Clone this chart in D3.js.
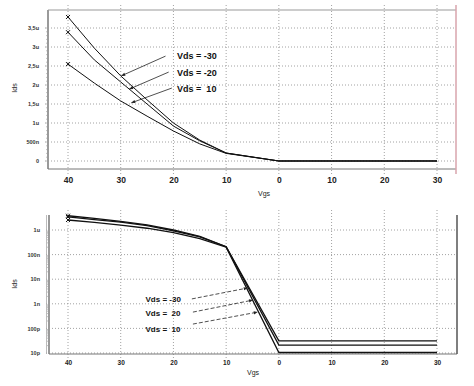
<!DOCTYPE html>
<html>
<head>
<meta charset="utf-8">
<script src="https://cdn.jsdelivr.net/npm/d3@7"></script>
<style>
  body { margin: 0; background: #fff; }
  text { font-family: "Liberation Sans", Arial, sans-serif; }
</style>
</head>
<body>
<div id="canvas"></div>
<script>
"use strict"

// Vgs sample points (V) and drain current (A) for the three Vds curves
let vgs = [-40, -35, -30, -25, -20, -15, -10, 0, 10, 20, 30];
let idsVds30 = [3.79e-6, 2.97e-6, 2.24e-6, 1.61e-6, 1.00e-6, 0.55e-6, 0.21e-6, 31e-12, 31e-12, 31e-12, 31e-12];
let idsVds20 = [3.39e-6, 2.66e-6, 2.08e-6, 1.50e-6, 0.92e-6, 0.53e-6, 0.21e-6, 21e-12, 21e-12, 21e-12, 21e-12];
let idsVds10 = [2.55e-6, 2.05e-6, 1.58e-6, 1.18e-6, 0.79e-6, 0.45e-6, 0.20e-6, 10.5e-12, 10.5e-12, 10.5e-12, 10.5e-12];

// axis ticks
let xTicks = [-40, -30, -20, -10, 0, 10, 20, 30];
let xTickLabels = ["40", "30", "20", "10", "0", "10", "20", "30"];
let linTicks = [0, 0.5e-6, 1e-6, 1.5e-6, 2e-6, 2.5e-6, 3e-6, 3.5e-6];
let linTickLabels = ["0", "500n", "1u", "1,5u", "2u", "2,5u", "3u", "3,5u"];
let logTicks = [1e-11, 1e-10, 1e-9, 1e-8, 1e-7, 1e-6];
let logTickLabels = ["10p", "100p", "1n", "10n", "100n", "1u"];

// annotation labels: [text, vgs, ids] and arrows [vgs1, ids1, vgs2, ids2]
let topNotes = ["Vds = -30", "Vds = -20", "Vds =  10"];
let topNoteAt = [[-19.3, 2.76e-6], [-19.3, 2.31e-6], [-19.3, 1.89e-6]];
let topArrows = [[-21.5, 2.76e-6, -29.9, 2.24e-6],
                 [-20.9, 2.34e-6, -28.4, 1.89e-6],
                 [-20.3, 1.92e-6, -28.0, 1.53e-6]];
let botNotes = ["Vds = -30", "Vds =  20", "Vds =  10"];
let botNoteAt = [[-25.3, 1.55e-9], [-25.3, 0.42e-9], [-25.3, 0.095e-9]];
let botArrows = [[-16.5, 1.58e-9, -5.9, 4.4e-9],
                 [-16.3, 0.46e-9, -4.9, 1.42e-9],
                 [-16.3, 0.15e-9, -4.0, 0.46e-9]];

let series = [idsVds30, idsVds20, idsVds10];

let drawingWidth = 474;
let drawingHeight = 386;

let drawing = d3.select("#canvas")
    .append("svg")
    .attr("width", drawingWidth)
    .attr("height", drawingHeight);

let x = d3.scaleLinear().domain([-40, 30]).range([68, 437]);

function drawPanel(cfg) {
    let g = drawing.append("g");
    let y = cfg.y;
    let left = cfg.left, right = cfg.right, top = cfg.top, bottom = cfg.bottom;

    // vertical dotted grid
    g.selectAll(".vgrid").data(xTicks).enter().append("line")
        .attr("x1", d => x(d)).attr("x2", d => x(d))
        .attr("y1", top - 5).attr("y2", bottom + 5)
        .attr("stroke", "#8a8a8a").attr("stroke-width", 0.8)
        .attr("stroke-dasharray", "1,2");

    // horizontal dotted grid
    g.selectAll(".hgrid").data(cfg.ticks).enter().append("line")
        .attr("x1", left - 3).attr("x2", right)
        .attr("y1", d => y(d)).attr("y2", d => y(d))
        .attr("stroke", "#8a8a8a").attr("stroke-width", 0.8)
        .attr("stroke-dasharray", "1,2");

    // minor ticks on the left
    g.selectAll(".minor").data(cfg.minor).enter().append("line")
        .attr("x1", left - 2).attr("x2", left)
        .attr("y1", d => y(d)).attr("y2", d => y(d))
        .attr("stroke", "#999").attr("stroke-width", 0.6);

    // frame
    g.append("line").attr("x1", left).attr("x2", left).attr("y1", top).attr("y2", bottom)
        .attr("stroke", "#9a9a9a").attr("stroke-width", 2);
    if (cfg.doubleLeft) {
        g.append("line").attr("x1", left - 2.5).attr("x2", left - 2.5).attr("y1", top).attr("y2", bottom)
            .attr("stroke", "#aaa").attr("stroke-width", 0.8);
    }
    g.append("line").attr("x1", left).attr("x2", right).attr("y1", bottom).attr("y2", bottom)
        .attr("stroke", "#777").attr("stroke-width", 1);
    if (cfg.topBorder) {
        g.append("line").attr("x1", left).attr("x2", right).attr("y1", top).attr("y2", top)
            .attr("stroke", "#999").attr("stroke-width", 1);
    }
    g.append("line").attr("x1", right).attr("x2", right)
        .attr("y1", top - cfg.rightExt).attr("y2", bottom + cfg.rightExt)
        .attr("stroke", cfg.rightColor).attr("stroke-width", 1.5);

    // y tick labels
    g.append("g").attr("transform", "translate(" + (left - 6) + ",0)")
        .call(d3.axisLeft(y).tickValues(cfg.ticks).tickSize(0)
            .tickFormat((d, i) => cfg.tickLabels[i]))
        .call(a => a.select(".domain").remove())
        .selectAll("text")
        .attr("font-size", 5.5).attr("font-weight", "bold").attr("fill", "#333")
        .attr("font-family", "'Liberation Sans', Arial, sans-serif");

    // x tick labels
    g.append("g").attr("transform", "translate(0," + cfg.xLabelY + ")")
        .call(d3.axisBottom(x).tickValues(xTicks).tickSize(0)
            .tickFormat((d, i) => xTickLabels[i]))
        .call(a => a.select(".domain").remove())
        .selectAll("text")
        .attr("font-size", cfg.xFont).attr("font-weight", "bold").attr("fill", "#222")
        .attr("font-family", "'Liberation Sans', Arial, sans-serif");

    // axis titles
    g.append("text").text("Ids")
        .attr("transform", "translate(17," + cfg.yTitleY + ") rotate(-90)")
        .attr("text-anchor", "middle").attr("font-size", 7).attr("fill", "#222");
    g.append("text").text("Vgs")
        .attr("x", cfg.xTitleX).attr("y", cfg.xTitleY)
        .attr("text-anchor", "middle").attr("font-size", 7).attr("fill", "#222");

    // curves
    let line = d3.line().x((d, i) => x(vgs[i])).y(d => y(d));
    g.selectAll(".curve").data(series).enter().append("path")
        .attr("d", d => line(d))
        .attr("fill", "none").attr("stroke", "#111").attr("stroke-width", cfg.curveWidth);

    // x markers at the first point
    series.forEach(s => {
        let cx = x(vgs[0]), cy = y(s[0]);
        g.append("path")
            .attr("d", "M" + (cx - 2) + "," + (cy - 2) + "L" + (cx + 2) + "," + (cy + 2) +
                       "M" + (cx - 2) + "," + (cy + 2) + "L" + (cx + 2) + "," + (cy - 2))
            .attr("stroke", "#111").attr("stroke-width", 1);
    });

    // annotations
    cfg.notes.forEach((t, i) => {
        g.append("text").text(t)
            .attr("x", x(cfg.noteAt[i][0])).attr("y", y(cfg.noteAt[i][1]))
            .attr("dy", "0.35em")
            .attr("xml:space", "preserve").style("white-space", "pre")
            .attr("font-size", cfg.noteFont).attr("font-weight", "bold").attr("fill", "#111");
    });
    cfg.arrows.forEach(a => {
        let x1 = x(a[0]), y1 = y(a[1]), x2 = x(a[2]), y2 = y(a[3]);
        g.append("line")
            .attr("x1", x1).attr("y1", y1).attr("x2", x2).attr("y2", y2)
            .attr("stroke", "#222").attr("stroke-width", 0.8)
            .attr("stroke-dasharray", cfg.dashed ? "4,2" : null);
        let ang = Math.atan2(y2 - y1, x2 - x1);
        let len = 4, w = 1.6;
        let bx = x2 - len * Math.cos(ang), by = y2 - len * Math.sin(ang);
        g.append("path")
            .attr("d", "M" + x2 + "," + y2 +
                       "L" + (bx - w * Math.sin(ang)) + "," + (by + w * Math.cos(ang)) +
                       "L" + (bx + w * Math.sin(ang)) + "," + (by - w * Math.cos(ang)) + "Z")
            .attr("fill", "#222");
    });
}

/* top panel: linear scale */
let yLin = d3.scaleLinear().domain([0, 3.5e-6]).range([161, 28]);
let linMinor = d3.range(0, 3.6e-6, 0.1e-6);
drawPanel({
    y: yLin, left: 48, right: 456, top: 10, bottom: 169,
    ticks: linTicks, tickLabels: linTickLabels, minor: linMinor,
    doubleLeft: false, topBorder: true, rightExt: 5, rightColor: "#d8a4ad",
    xLabelY: 174, xFont: 8.5, yTitleY: 88, xTitleX: 264, xTitleY: 196,
    curveWidth: 1, notes: topNotes, noteAt: topNoteAt, arrows: topArrows,
    noteFont: 9, dashed: false
});

/* bottom panel: log scale */
let yLog = d3.scaleLog().domain([1e-11, 1e-6]).range([353, 230]);
let logMinor = [];
logTicks.slice(0, 5).forEach(d => { for (let k = 2; k < 10; k++) logMinor.push(d * k); });
drawPanel({
    y: yLog, left: 49, right: 457, top: 215, bottom: 354,
    ticks: logTicks, tickLabels: logTickLabels, minor: logMinor,
    doubleLeft: true, topBorder: false, rightExt: 0, rightColor: "#555",
    xLabelY: 357, xFont: 6.5, yTitleY: 284, xTitleX: 253, xTitleY: 375,
    curveWidth: 1.3, notes: botNotes, noteAt: botNoteAt, arrows: botArrows,
    noteFont: 8, dashed: true
});
</script>
</body>
</html>
